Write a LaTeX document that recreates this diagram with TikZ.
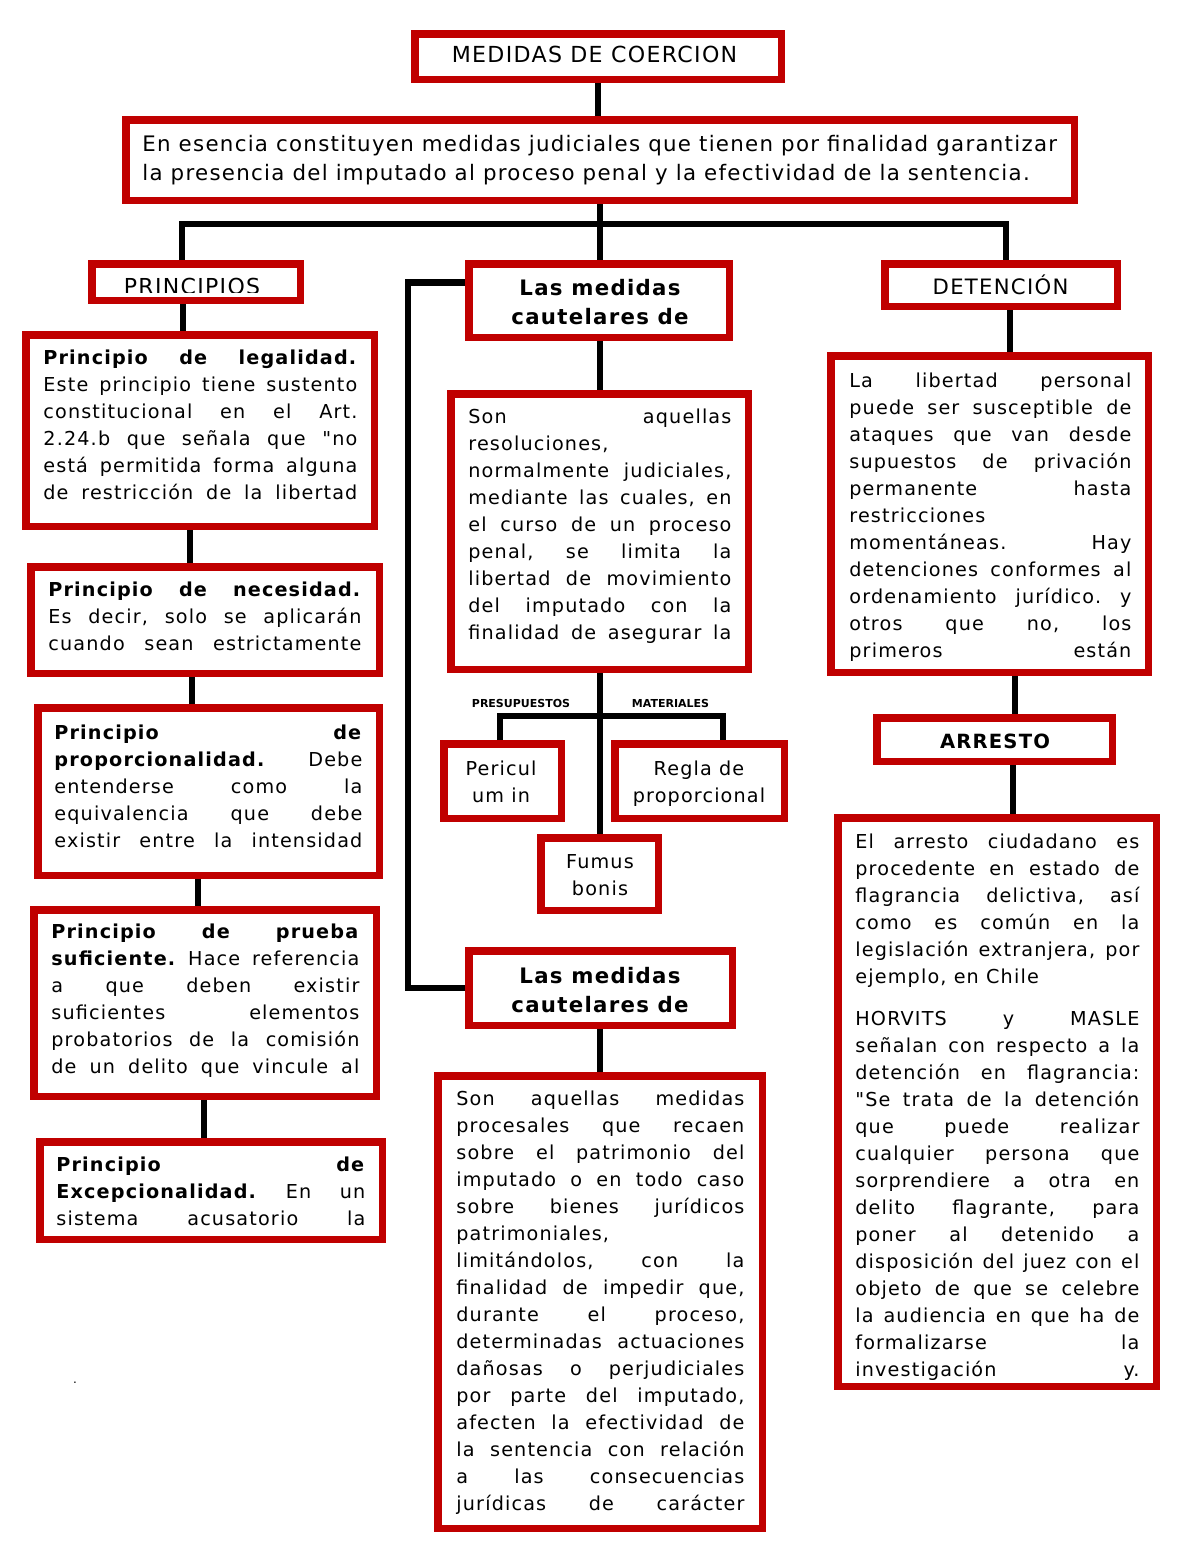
\documentclass[tikz,border=0pt]{standalone}
\usepackage{fontspec}
\setmainfont{DejaVu Sans}[LetterSpace=6, Ligatures=TeXOff]
\newfontfamily\labfont{DejaVu Sans}
\usetikzlibrary{calc}
\definecolor{boxred}{RGB}{192,0,0}
\newcommand\myJ[1]{\makebox[\linewidth][s]{#1}\par}
\newcommand\myL[1]{\makebox[\linewidth][l]{#1}\par}
\newcommand\rbox[5]{\node[redbox, anchor=north west, minimum width={(#4-#2-7.5)*0.5pt}, minimum height={(#5-#3-7.5)*0.5pt}] (#1) at (#2,#3) {};}
\newcommand\para[5]{\node[anchor=base west, inner sep=0pt] (#1) at (#2,#3) {\parbox[t]{#4}{\frenchspacing\fontsize{9.6}{13.5}\selectfont #5}};}
\newcommand\cpara[5]{\node[anchor=base, inner sep=0pt] (#1) at (#2,#3) {\parbox[t]{#4}{\centering\frenchspacing\fontsize{9.6}{13.5}\selectfont #5}};}
\begin{document}
\begin{tikzpicture}[x=0.5pt,y=-0.5pt,
  redbox/.style={draw=boxred, fill=white, line width=3.75pt, inner sep=0pt},
  conn/.style={draw=black, line width=3.25pt}]
\fill[white] (0,0) rectangle (1200,1553);
\useasboundingbox (0,0) rectangle (1200,1553);
% boxes
\rbox{box1}{411}{30}{785}{83}
\rbox{box2}{122}{116}{1078}{204}
\rbox{box3}{88}{260}{304}{304}
\rbox{box4}{465}{260}{733}{341}
\rbox{box5}{881}{260}{1121}{310}
\rbox{box6}{22}{331}{378}{530}
\rbox{box7}{27}{563}{383}{677}
\rbox{box8}{34}{704}{383}{879}
\rbox{box9}{30}{906}{380}{1100}
\rbox{box10}{36}{1138}{386}{1243}
\rbox{box11}{447}{390}{752}{673}
\rbox{box12}{440}{740}{565}{822}
\rbox{box13}{611}{740}{788}{822}
\rbox{box14}{537}{834}{662}{914}
\rbox{box15}{465}{947}{736}{1029}
\rbox{box16}{434}{1072}{766}{1532}
\rbox{box17}{827}{352}{1152}{676}
\rbox{box18}{873}{714}{1116}{765}
\rbox{box19}{834}{814}{1160}{1390}
% x positions of connectors
\coordinate (xa) at (183,0);
\coordinate (xb) at (190,0);
\coordinate (xc) at (192,0);
\coordinate (xd) at (198,0);
\coordinate (xe) at (204,0);
\coordinate (xm) at (600,0);
\coordinate (xl) at (182,0);
\coordinate (xr) at (1006,0);
\coordinate (xp) at (500,0);
\coordinate (xq) at (723,0);
\coordinate (xs) at (1010,0);
\coordinate (xt) at (1015,0);
\coordinate (xu) at (1013,0);
\coordinate (xw) at (408,0);
\coordinate (j1) at (600,224);
\coordinate (j2) at (600,716);
% connectors
\draw[conn] (box1.south) -- (box1.south |- box2.north);
\draw[conn] (xm |- box2.south) -- (xm |- box4.north);
\draw[conn] (xl |- box3.north) |- (j1) -| (xr |- box5.north);
\draw[conn] (xa |- box3.south) -- (xa |- box6.north);
\draw[conn] (xb |- box6.south) -- (xb |- box7.north);
\draw[conn] (xc |- box7.south) -- (xc |- box8.north);
\draw[conn] (xd |- box8.south) -- (xd |- box9.north);
\draw[conn] (xe |- box9.south) -- (xe |- box10.north);
\draw[conn] (xm |- box4.south) -- (xm |- box11.north);
\draw[conn] ($(box4.west)+(0,-18)$) -| (xw |- box15.west) -- (box15.west);
\draw[conn] (xm |- box11.south) -- (xm |- box14.north);
\draw[conn] (xp |- box12.north) |- (j2) -| (xq |- box13.north);
\draw[conn] (xm |- box15.south) -- (xm |- box16.north);
\draw[conn] (xs |- box5.south) -- (xs |- box17.north);
\draw[conn] (xt |- box17.south) -- (xt |- box18.north);
\draw[conn] (xu |- box18.south) -- (xu |- box19.north);
% single-line texts
\node[anchor=base, inner sep=0pt, font=\fontsize{11.05}{13}\selectfont] (t1) at (594.5,62) {MEDIDAS DE COERCION};
\node[anchor=base west, inner sep=0pt] (t2) at (142,151) {\parbox[t]{470pt}{\raggedright\fontsize{10.67}{14.5}\selectfont En esencia constituyen medidas judiciales que tienen por finalidad garantizar\\la presencia del imputado al proceso penal y la efectividad de la sentencia.}};
\begin{scope}
\clip (96,268) rectangle (296,292);
\node[anchor=base, inner sep=0pt, font=\fontsize{11}{13}\selectfont] (t3) at (192,294) {PRINCIPIOS};
\end{scope}
\node[anchor=base, inner sep=0pt, font=\fontsize{10.6}{13}\selectfont] (t5) at (1000.5,294) {DETENCIÓN};
\node[anchor=base, inner sep=0pt, font=\fontsize{9.8}{13}\selectfont\bfseries] (t18) at (995,748) {ARRESTO};
\node[anchor=base, inner sep=0pt] (t4) at (600,295) {\parbox[t]{130pt}{\centering\fontsize{10.65}{14.5}\selectfont\bfseries Las medidas\\cautelares de}};
\node[anchor=base, inner sep=0pt] (t15) at (600,983) {\parbox[t]{130pt}{\centering\fontsize{10.65}{14.5}\selectfont\bfseries Las medidas\\cautelares de}};
\node[anchor=base, inner sep=0pt, font={\labfont\fontsize{5.5}{6}\selectfont\bfseries}] (lpres) at (521,707) {PRESUPUESTOS};
\node[anchor=base, inner sep=0pt, font={\labfont\fontsize{5.5}{6}\selectfont\bfseries}] (lmat) at (670.5,707) {MATERIALES};
% paragraphs
\para{t6}{43}{364}{157pt}{%
\myJ{\textbf{Principio de legalidad.}}
\myJ{Este principio tiene sustento}
\myJ{constitucional en el Art.}
\myJ{2.24.b que señala que "no}
\myJ{está permitida forma alguna}
\myJ{de restricción de la libertad}}
\para{t7}{48}{596}{156.5pt}{%
\myJ{\textbf{Principio de necesidad.}}
\myJ{Es decir, solo se aplicarán}
\myJ{cuando sean estrictamente}}
\para{t8}{54}{739}{154pt}{%
\myJ{\textbf{Principio de}}
\myJ{\textbf{proporcionalidad.} Debe}
\myJ{entenderse como la}
\myJ{equivalencia que debe}
\myJ{existir entre la intensidad}}
\para{t9}{51}{938}{154pt}{%
\myJ{\textbf{Principio de prueba}}
\myJ{\textbf{suficiente.} Hace referencia}
\myJ{a que deben existir}
\myJ{suficientes elementos}
\myJ{probatorios de la comisión}
\myJ{de un delito que vincule al}}
\para{t10}{56}{1171}{154.5pt}{%
\myJ{\textbf{Principio de}}
\myJ{\textbf{Excepcionalidad.} En un}
\myJ{sistema acusatorio la}}
\para{t11}{468}{423}{131.5pt}{%
\myJ{Son aquellas}
\myL{resoluciones,}
\myJ{normalmente judiciales,}
\myJ{mediante las cuales, en}
\myJ{el curso de un proceso}
\myJ{penal, se limita la}
\myJ{libertad de movimiento}
\myJ{del imputado con la}
\myJ{finalidad de asegurar la}}
\cpara{t12}{501}{775}{60pt}{Pericul\\um in}
\cpara{t13}{699}{775}{85pt}{Regla de\\proporcional}
\cpara{t14}{600}{868}{60pt}{Fumus\\bonis}
\para{t16}{456}{1105}{144pt}{%
\myJ{Son aquellas medidas}
\myJ{procesales que recaen}
\myJ{sobre el patrimonio del}
\myJ{imputado o en todo caso}
\myJ{sobre bienes jurídicos}
\myL{patrimoniales,}
\myJ{limitándolos, con la}
\myJ{finalidad de impedir que,}
\myJ{durante el proceso,}
\myJ{determinadas actuaciones}
\myJ{dañosas o perjudiciales}
\myJ{por parte del imputado,}
\myJ{afecten la efectividad de}
\myJ{la sentencia con relación}
\myJ{a las consecuencias}
\myJ{jurídicas de carácter}}
\para{t17}{849}{387}{141pt}{%
\myJ{La libertad personal}
\myJ{puede ser susceptible de}
\myJ{ataques que van desde}
\myJ{supuestos de privación}
\myJ{permanente hasta}
\myL{restricciones}
\myJ{momentáneas. Hay}
\myJ{detenciones conformes al}
\myJ{ordenamiento jurídico. y}
\myJ{otros que no, los}
\myJ{primeros están}}
\para{t19}{855}{848}{142pt}{%
\myJ{El arresto ciudadano es}
\myJ{procedente en estado de}
\myJ{flagrancia delictiva, así}
\myJ{como es común en la}
\myJ{legislación extranjera, por}
\myL{ejemplo, en Chile}
\vspace{7.5pt}
\myJ{HORVITS y MASLE}
\myJ{señalan con respecto a la}
\myJ{detención en flagrancia:}
\myJ{"Se trata de la detención}
\myJ{que puede realizar}
\myJ{cualquier persona que}
\myJ{sorprendiere a otra en}
\myJ{delito flagrante, para}
\myJ{poner al detenido a}
\myJ{disposición del juez con el}
\myJ{objeto de que se celebre}
\myJ{la audiencia en que ha de}
\myJ{formalizarse la}
\myJ{investigación y.}}
\node[inner sep=0pt, font=\fontsize{6}{7}\selectfont] (dot) at (75,1383) {.};
\end{tikzpicture}
\end{document}
